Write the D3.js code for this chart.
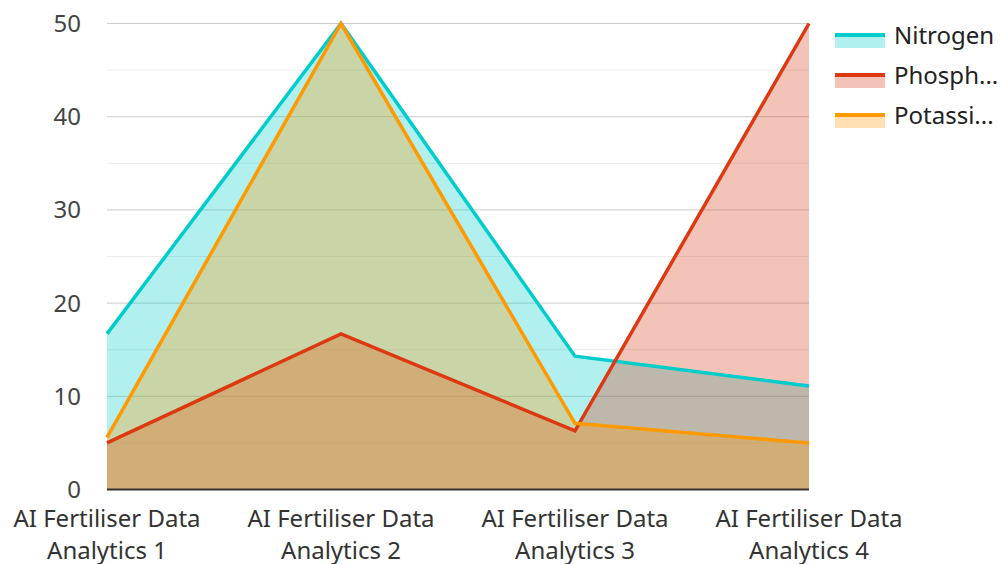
<!DOCTYPE html>
<html>
<head>
<meta charset="UTF-8">
<script src="https://d3js.org/d3.v7.min.js"></script>
<style>
  body { margin: 0; background: #fff; font-family: "Noto Sans", sans-serif; }
</style>
</head>
<body>
<div id="chart"></div>
<script>
const categories = ["AI Fertiliser Data Analytics 1", "AI Fertiliser Data Analytics 2",
                    "AI Fertiliser Data Analytics 3", "AI Fertiliser Data Analytics 4"];
const seriesNames = ["Nitrogen", "Phosph...", "Potassi..."];
const nitrogen = [16.7, 50, 14.3, 11.1];
const phosphorus = [5.0, 16.7, 6.3, 50];
const potassium = [5.6, 50, 7.1, 5.0];
const yTicks = [0, 10, 20, 30, 40, 50];
const colors = ["#00cccc", "#dc3912", "#ff9900"];

const series = [nitrogen, phosphorus, potassium];

const W = 1001, H = 564;
const plotLeft = 107, plotRight = 809, plotTop = 23.5, plotBottom = 489.5;

const svg = d3.select("#chart").append("svg")
  .attr("width", W).attr("height", H);

const x = d3.scalePoint().domain(categories).range([plotLeft, plotRight]);
const y = d3.scaleLinear().domain([0, 50]).range([plotBottom, plotTop]);

// minor grid
svg.append("g").selectAll("line")
  .data(d3.range(5, 50, 10))
  .join("line")
  .attr("x1", plotLeft).attr("x2", plotRight)
  .attr("y1", d => y(d)).attr("y2", d => y(d))
  .attr("stroke", "#ebebeb").attr("stroke-width", 1);

// major grid
svg.append("g").selectAll("line")
  .data(yTicks.filter(d => d > 0))
  .join("line")
  .attr("x1", plotLeft).attr("x2", plotRight)
  .attr("y1", d => y(d)).attr("y2", d => y(d))
  .attr("stroke", "#cccccc").attr("stroke-width", 1);

// y labels
svg.append("g").selectAll("text")
  .data(yTicks)
  .join("text")
  .attr("x", 81).attr("y", d => y(d) + 8.5)
  .attr("text-anchor", "end")
  .style("font-size", "24px")
  .attr("fill", "#444")
  .text(d => d);

const area = d3.area()
  .x((d, i) => x(categories[i]))
  .y0(y(0))
  .y1(d => y(d));

const line = d3.line()
  .x((d, i) => x(categories[i]))
  .y(d => y(d));

svg.append("g").selectAll("path")
  .data(series)
  .join("path")
  .attr("d", area)
  .attr("fill", (d, i) => colors[i])
  .attr("fill-opacity", 0.3);

// baseline
svg.append("line")
  .attr("x1", plotLeft).attr("x2", plotRight)
  .attr("y1", y(0)).attr("y2", y(0))
  .attr("stroke", "#333").attr("stroke-width", 2);

svg.append("g").selectAll("path")
  .data(series)
  .join("path")
  .attr("d", line)
  .attr("fill", "none")
  .attr("stroke", (d, i) => colors[i])
  .attr("stroke-width", 3.5)
  .attr("stroke-linejoin", "miter");

// x labels
const xl = svg.append("g").selectAll("text")
  .data(categories)
  .join("text")
  .attr("x", d => x(d))
  .attr("text-anchor", "middle")
  .style("font-size", "24px")
  .attr("fill", "#333");
xl.append("tspan").attr("x", d => x(d)).attr("y", 527)
  .text(d => d.split(" ").slice(0, 3).join(" "));
xl.append("tspan").attr("x", d => x(d)).attr("y", 559)
  .text(d => d.split(" ").slice(3).join(" "));

// legend
const lg = svg.append("g").selectAll("g")
  .data(seriesNames)
  .join("g")
  .attr("transform", (d, i) => `translate(835, ${33 + i * 40})`);
lg.append("rect")
  .attr("x", 0).attr("y", 1).attr("width", 50).attr("height", 14)
  .attr("fill", (d, i) => colors[i]).attr("fill-opacity", 0.3);
lg.append("rect")
  .attr("x", 0).attr("y", 0).attr("width", 50).attr("height", 4)
  .attr("fill", (d, i) => colors[i]);
lg.append("text")
  .attr("x", 59).attr("y", 11)
  .style("font-size", "24px")
  .attr("fill", "#222")
  .text(d => d);
</script>
</body>
</html>
